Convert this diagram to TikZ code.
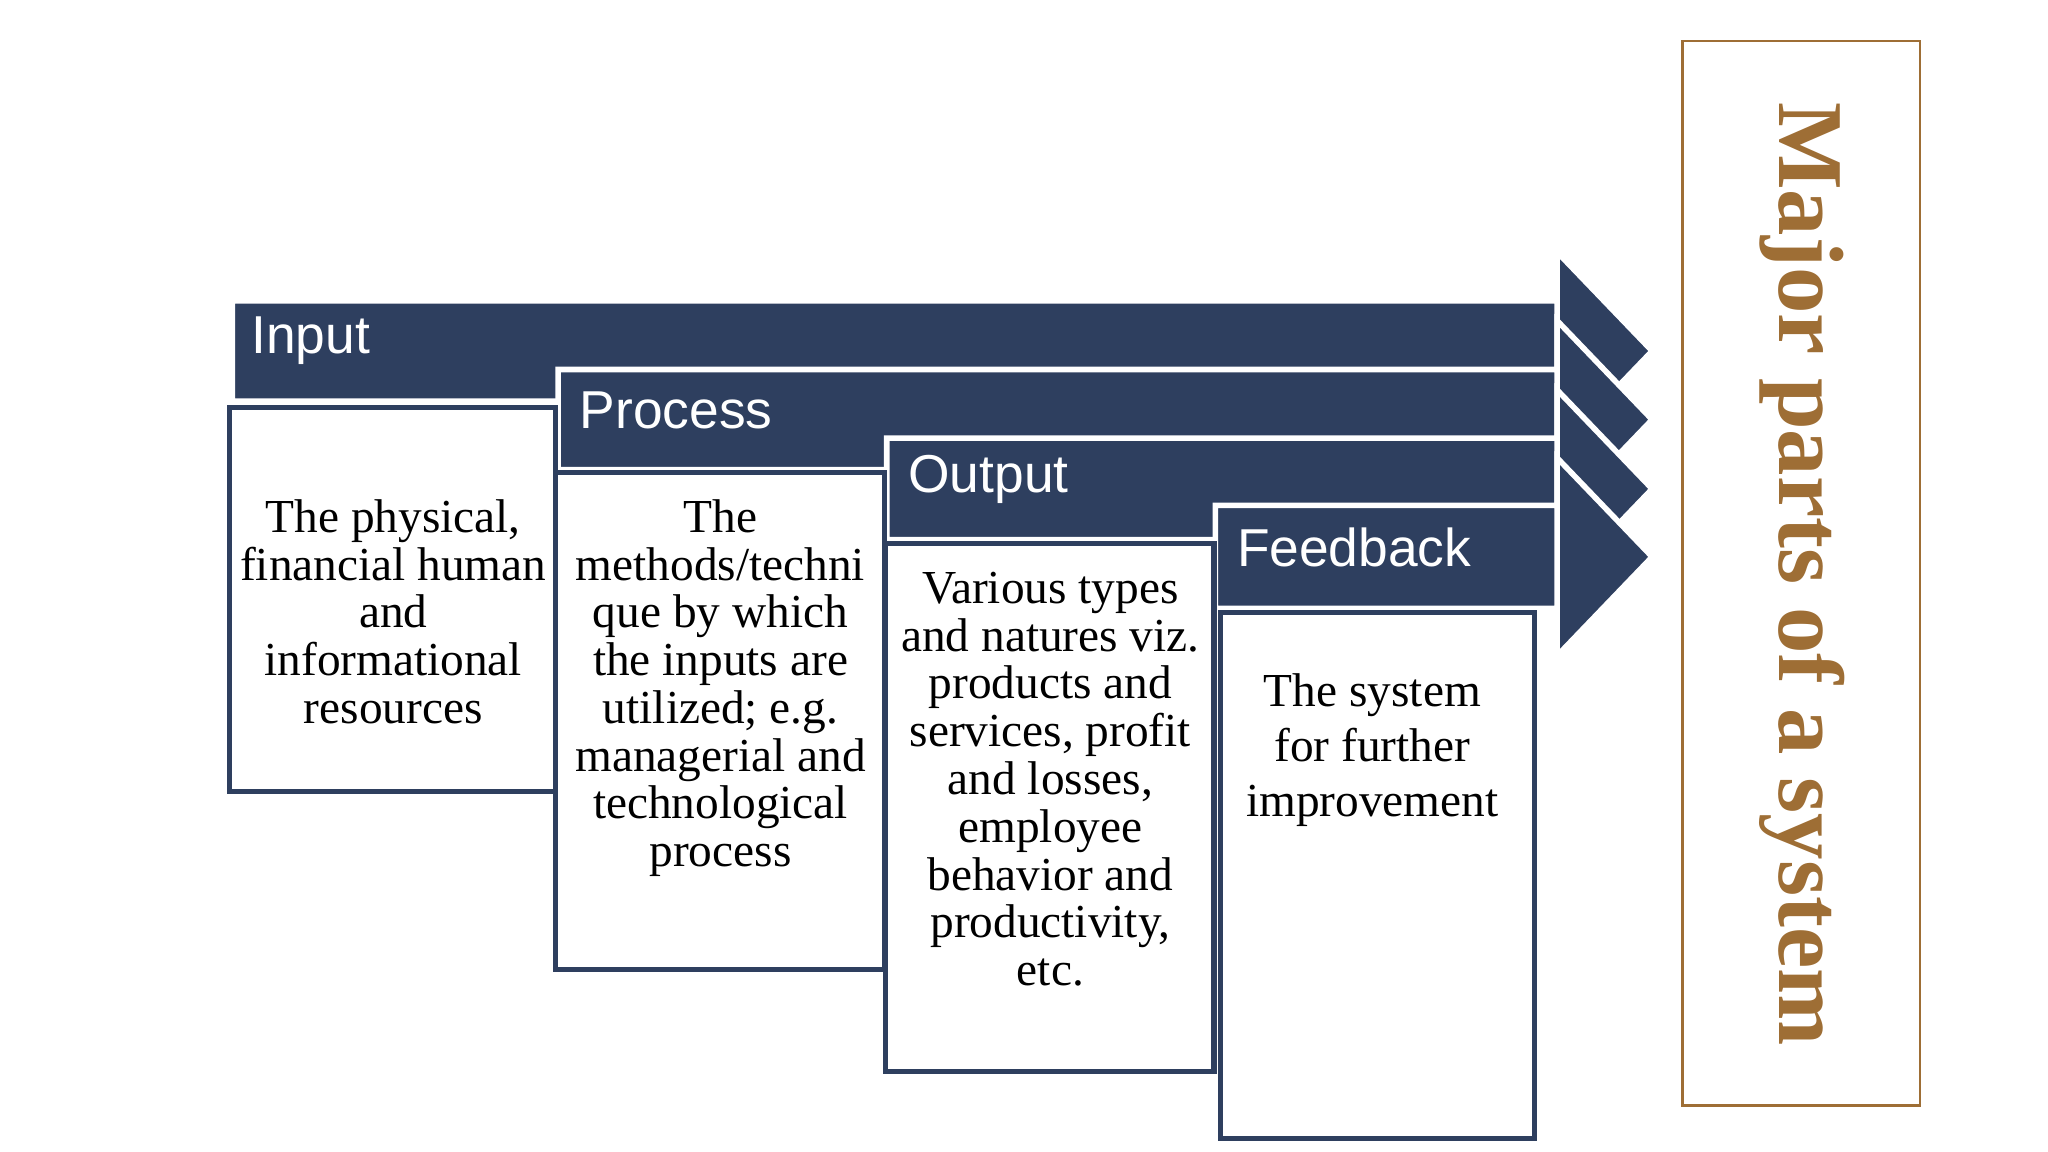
\documentclass[tikz,border=0pt]{standalone}
\usepackage{fontspec}
\setmainfont{Liberation Serif}
\setsansfont{Liberation Sans}
\usetikzlibrary{calc}
\definecolor{navy}{HTML}{2E3F5F}
\definecolor{bronze}{HTML}{9E6E35}
\tikzset{
   band/.style={fill=navy,draw=white,line width=1.2pt,line join=miter},
   head/.style={text=white,font=\sffamily\fontsize{11.5}{12}\selectfont,anchor=west},
   card/.style={draw=navy,line width=1.1pt,fill=white},
   body/.style={align=center,font=\fontsize{10.2}{10.3}\selectfont,anchor=north}
}
\newcommand{\band}[3]{% left x, top y, bottom y
   \filldraw[band] (#1,#2) -- (1180,#2) -- (1180,{(#2+#3)/2+75}) -- (1252,{(#2+#3)/2})
      -- (1180,{(#2+#3)/2-75}) -- (1180,#3) -- (#1,#3) -- cycle;}
\begin{document}
\begin{tikzpicture}[x=0.01cm,y=-0.01cm]
   \useasboundingbox (0,0) rectangle (1552,873);
   % arrows
   \band{176}{228}{304}
   \band{423}{280}{356}
   \band{672}{332}{409}
   \band{921}{383}{461}
   \node[head] (input) at (178,258) {Input};
   \node[head] (process) at (427,311) {Process};
   \node[head] (output) at (676,363) {Output};
   \node[head] (feedback) at (925,415) {Feedback};
   % boxes
   \draw[card] (174,309) rectangle (421,600);
   \draw[card] (421,358) rectangle (670,735);
   \draw[card] (671,412) rectangle (920,812);
   \draw[card] (925,464) rectangle (1163,863);
   \node[body] (inputtext) at (298,366) {The physical,\\financial human\\and\\informational\\resources};
   \node[body] (processtext) at (546,366) {The\\methods/techni\\que by which\\the inputs are\\utilized; e.g.\\managerial and\\technological\\process};
   \node[body] (outputtext) at (796,421) {Various types\\and natures viz.\\products and\\services, profit\\and losses,\\employee\\behavior and\\productivity,\\etc.};
   \node[body,font=\fontsize{10.2}{11.9}\selectfont] (feedbacktext) at (1040,498) {The system\\for further\\improvement};
   % side title
   \draw[bronze,line width=0.6pt] (1275,31) rectangle (1455,838);
   \node[rotate=-90,text=bronze,font=\bfseries\fontsize{20}{20}\selectfont] (title) at (1366,435) {Major parts of a system};
\end{tikzpicture}
\end{document}
